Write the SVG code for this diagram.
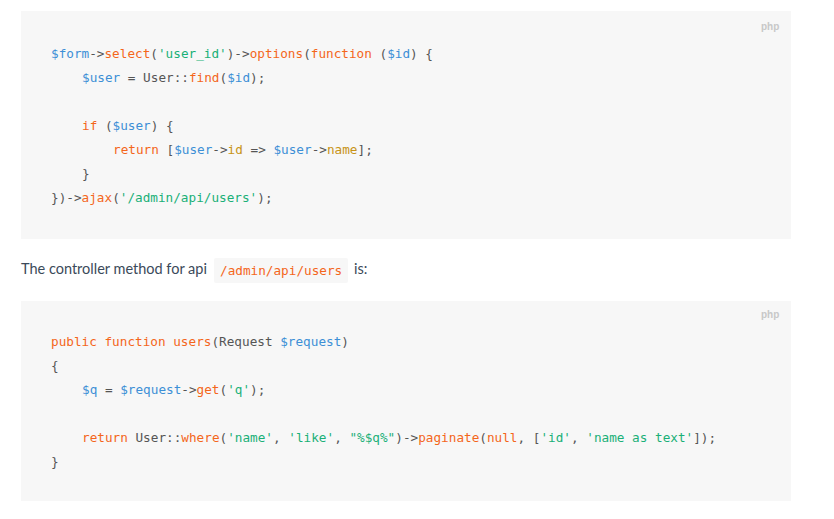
<svg xmlns="http://www.w3.org/2000/svg" width="834" height="519" viewBox="0 0 834 519">
<style>
.bg{fill:#f7f7f7}
.c{font-family:"DejaVu Sans Mono","Liberation Mono",monospace;font-size:12.7px;fill:#555;white-space:pre}
.v{fill:#3d8fd6}.k{fill:#f4661b}.s{fill:#1ab077}.p{fill:#c79316}
.lang{font-family:"Liberation Sans",sans-serif;font-size:10px;font-weight:bold;fill:#c8c8c8}
.t{font-family:"Lato","Noto Sans",sans-serif;font-size:14.5px;fill:#3b4a5a}
</style>
<rect width="834" height="519" fill="#fff"/>
<g id="block1">
<rect class="bg" x="21" y="11" width="770" height="228"/>
<text class="lang" x="761" y="30">php</text>
<text class="c" x="51" y="58"><tspan class="v">$form</tspan>-&gt;<tspan class="k">select</tspan>(<tspan class="s">'user_id'</tspan>)-&gt;<tspan class="k">options</tspan>(<tspan class="k">function</tspan> (<tspan class="v">$id</tspan>) {</text>
<text class="c" x="82" y="82"><tspan class="v">$user</tspan> = User::<tspan class="k">find</tspan>(<tspan class="v">$id</tspan>);</text>
<text class="c" x="82" y="130"><tspan class="k">if</tspan> (<tspan class="v">$user</tspan>) {</text>
<text class="c" x="113" y="154"><tspan class="k">return</tspan> [<tspan class="v">$user</tspan>-&gt;<tspan class="p">id</tspan> =&gt; <tspan class="v">$user</tspan>-&gt;<tspan class="p">name</tspan>];</text>
<text class="c" x="82" y="178">}</text>
<text class="c" x="51" y="202">})-&gt;<tspan class="k">ajax</tspan>(<tspan class="s">'/admin/api/users'</tspan>);</text>
</g>
<g id="para">
<text class="t" x="21" y="274">The controller method for api</text>
<rect class="bg" x="214" y="258" width="134" height="25" rx="2"/>
<text class="c k" x="220" y="275">/admin/api/users</text>
<text class="t" x="354" y="274">is:</text>
</g>
<g id="block2">
<rect class="bg" x="21" y="301" width="770" height="200"/>
<text class="lang" x="761" y="318">php</text>
<text class="c" x="51" y="346"><tspan class="k">public</tspan> <tspan class="k">function</tspan> <tspan class="k">users</tspan>(Request <tspan class="v">$request</tspan>)</text>
<text class="c" x="51" y="370">{</text>
<text class="c" x="82" y="394"><tspan class="v">$q</tspan> = <tspan class="v">$request</tspan>-&gt;<tspan class="k">get</tspan>(<tspan class="s">'q'</tspan>);</text>
<text class="c" x="82" y="442"><tspan class="k">return</tspan> User::<tspan class="k">where</tspan>(<tspan class="s">'name'</tspan>, <tspan class="s">'like'</tspan>, <tspan class="s">"%$q%"</tspan>)-&gt;<tspan class="k">paginate</tspan>(<tspan class="k">null</tspan>, [<tspan class="s">'id'</tspan>, <tspan class="s">'name as text'</tspan>]);</text>
<text class="c" x="51" y="466">}</text>
</g>
</svg>
